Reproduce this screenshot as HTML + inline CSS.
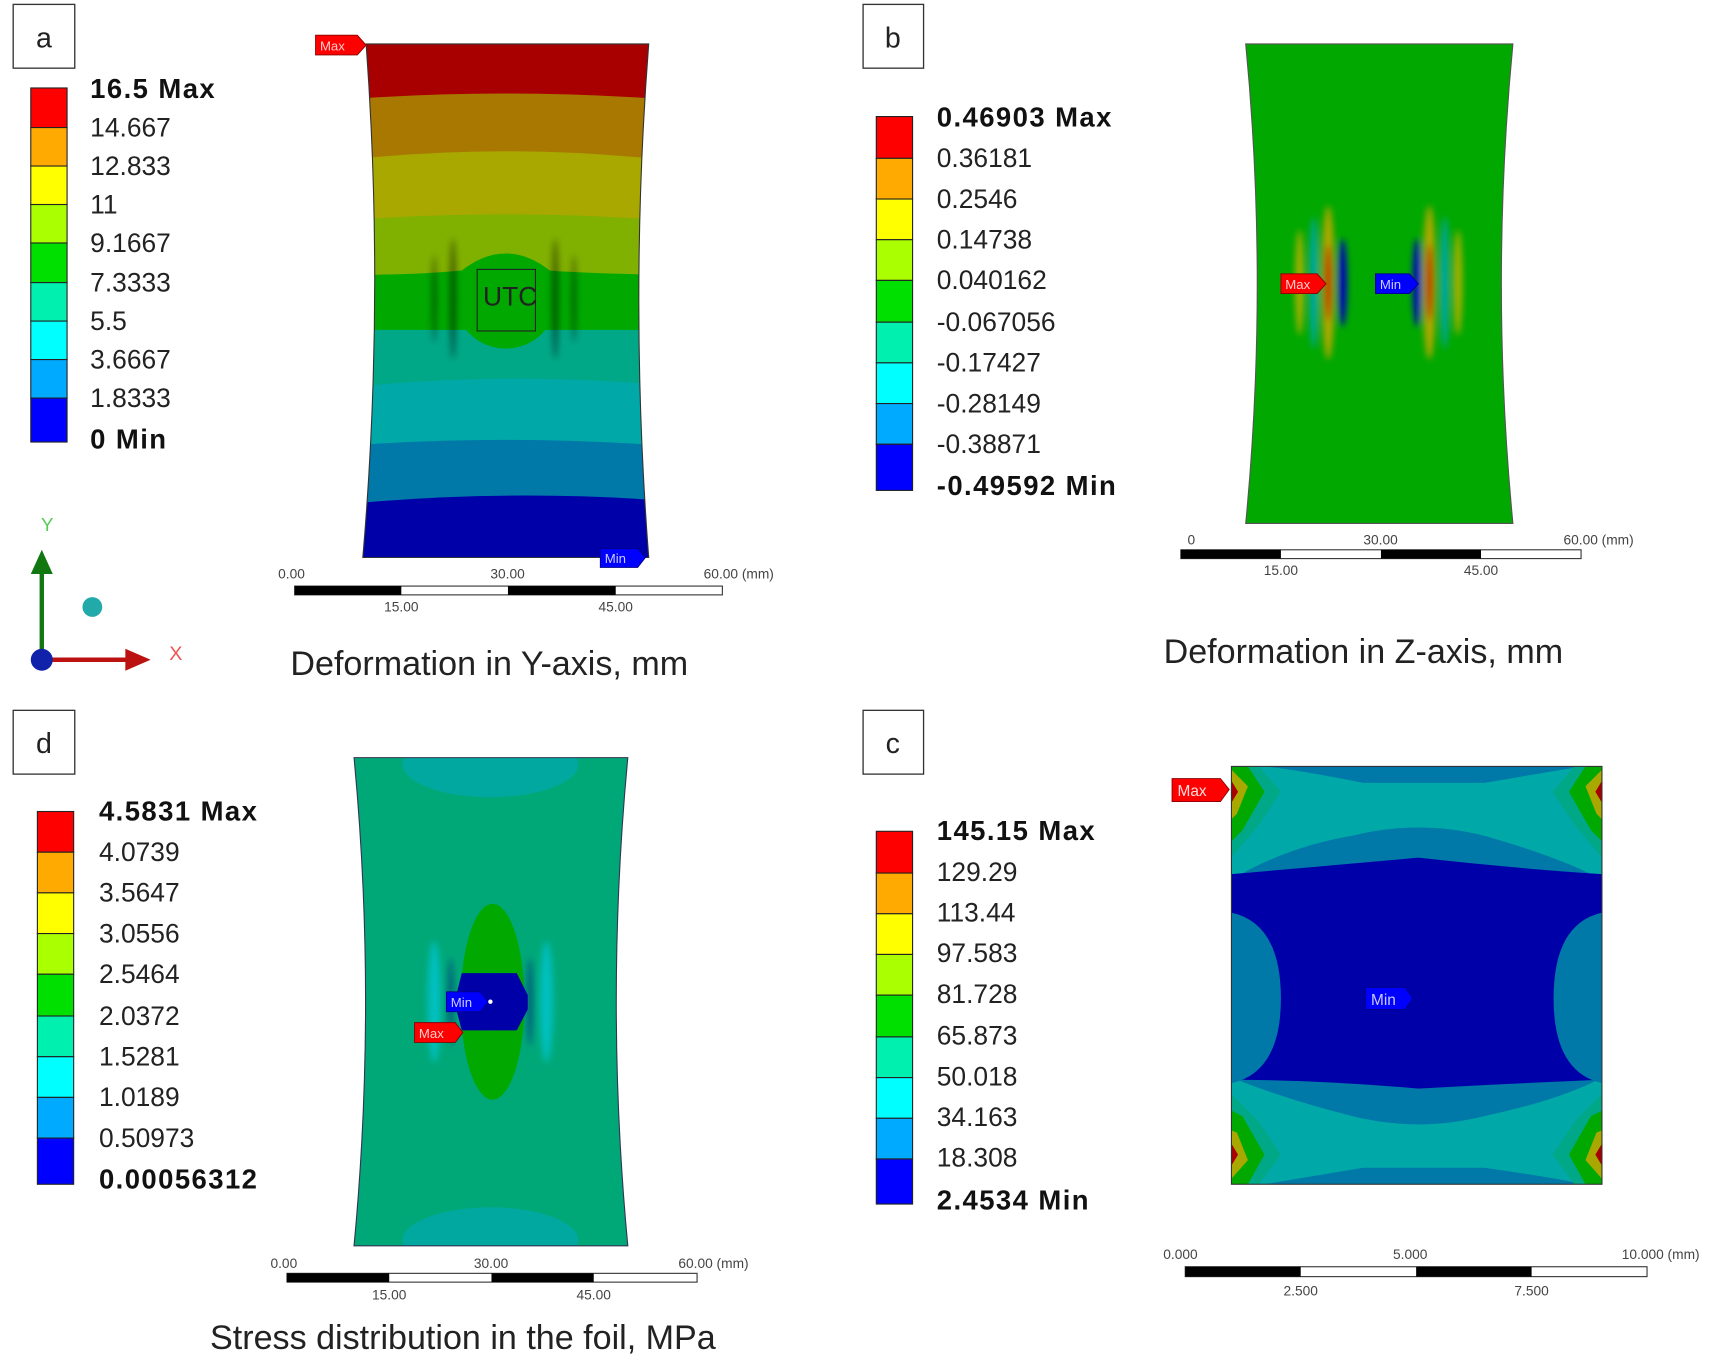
<!DOCTYPE html>
<html><head><meta charset="utf-8"><style>
html,body{margin:0;padding:0;background:#fff}
svg{display:block}
text{font-family:"Liberation Sans",sans-serif}
.lb{font-size:24px;fill:#222}
.lbb{font-size:25px;fill:#111;font-weight:bold;letter-spacing:1.3px}
.sc{font-size:12.5px;fill:#444}
.ti{font-size:31px;fill:#222}
</style></head><body>
<svg width="1724" height="1358" viewBox="0 0 1568 1235" preserveAspectRatio="none" xmlns="http://www.w3.org/2000/svg">
<defs>
<filter id="bl" x="-50%" y="-50%" width="200%" height="200%"><feGaussianBlur stdDeviation="3"/></filter>
<clipPath id="ca"><path d="M333,40 L590,40 Q572,273 590,507 L330,507 Q350,273 333,40Z"/></clipPath>
<clipPath id="cb"><path d="M1133,40 L1376,40 Q1355,258 1376,476 L1133,476 Q1154,258 1133,40Z"/></clipPath>
<clipPath id="cd"><path d="M322,689 L571,689 Q550,911 571,1133 L322,1133 Q343,911 322,689Z"/></clipPath>
<clipPath id="cc"><rect x="1120" y="697" width="337" height="380"/></clipPath>
</defs>

<!-- ===== Panel a ===== -->
<rect x="12" y="4" width="56" height="58" fill="#fff" stroke="#333" stroke-width="1.2"/>
<text x="40" y="43" font-size="26" text-anchor="middle" fill="#222">a</text>
<g stroke="#222" stroke-width="1">
<rect x="28" y="80" width="33" height="36" fill="#ff0000"/>
<rect x="28" y="116" width="33" height="35" fill="#ffaa00"/>
<rect x="28" y="151" width="33" height="35" fill="#ffff00"/>
<rect x="28" y="186" width="33" height="35" fill="#aaff00"/>
<rect x="28" y="221" width="33" height="36" fill="#00e000"/>
<rect x="28" y="257" width="33" height="35" fill="#00f0b0"/>
<rect x="28" y="292" width="33" height="35" fill="#00ffff"/>
<rect x="28" y="327" width="33" height="35" fill="#00aaff"/>
<rect x="28" y="362" width="33" height="40" fill="#0000ff"/>
</g>
<text class="lbb" x="82" y="89">16.5 Max</text>
<text class="lb" x="82" y="124">14.667</text>
<text class="lb" x="82" y="159">12.833</text>
<text class="lb" x="82" y="194">11</text>
<text class="lb" x="82" y="229">9.1667</text>
<text class="lb" x="82" y="265">7.3333</text>
<text class="lb" x="82" y="300">5.5</text>
<text class="lb" x="82" y="335">3.6667</text>
<text class="lb" x="82" y="370">1.8333</text>
<text class="lbb" x="82" y="408">0 Min</text>

<g clip-path="url(#ca)">
<rect x="320" y="30" width="280" height="490" fill="#0000a8"/>
<path d="M320,30 H600 V455 Q460,445 320,458Z" fill="#0078a8"/>
<path d="M320,30 H600 V405 Q460,395 320,405Z" fill="#00a8a8"/>
<path d="M320,30 H600 V350 Q460,338 320,352Z" fill="#00a888"/>
<path d="M320,30 H600 V300 Q460,300 320,300Z" fill="#00a800"/>
<circle cx="460" cy="270" r="47" fill="#00a800"/>
<path d="M320,30 H600 V250 Q520,248 500,246 Q460,215 420,246 Q380,250 320,250Z" fill="#80b000"/>
<path d="M320,30 H600 V200 Q460,190 320,200Z" fill="#a8a800"/>
<path d="M320,30 H600 V145 Q460,130 320,145Z" fill="#a87800"/>
<path d="M320,30 H600 V90 Q460,80 320,90Z" fill="#a80000"/>
<g filter="url(#bl)" opacity="0.45" fill="#000">
<ellipse cx="412" cy="272" rx="3" ry="55"/><ellipse cx="505" cy="272" rx="3" ry="55"/>
<ellipse cx="395" cy="272" rx="2" ry="40"/><ellipse cx="522" cy="272" rx="2" ry="40"/>
</g>
</g>
<path d="M333,40 L590,40 Q572,273 590,507 L330,507 Q350,273 333,40Z" fill="none" stroke="#333" stroke-width="1"/>
<rect x="434" y="245" width="53" height="56" fill="none" stroke="#222" stroke-width="1"/>
<text x="464" y="278" font-size="24" text-anchor="middle" fill="#222">UTC</text>
<path d="M287,32 H325 L333,41 L325,50 H287Z" fill="#ff0000" stroke="#800" stroke-width="0.8"/>
<text x="291" y="46" font-size="12" fill="#fcc">Max</text>
<path d="M546,499 H580 L587,507 L580,516 H546Z" fill="#0000ff" stroke="#008" stroke-width="0.8"/>
<text x="550" y="512" font-size="12" fill="#ccf">Min</text>
<text class="sc" x="253" y="526">0.00</text>
<text class="sc" x="446" y="526">30.00</text>
<text class="sc" x="640" y="526">60.00 (mm)</text>
<rect x="268" y="533" width="389" height="8" fill="#fff" stroke="#333" stroke-width="1"/>
<rect x="268" y="533" width="97" height="8" fill="#000"/><rect x="462" y="533" width="98" height="8" fill="#000"/>
<text class="sc" x="365" y="556" text-anchor="middle">15.00</text>
<text class="sc" x="560" y="556" text-anchor="middle">45.00</text>
<text class="ti" x="445" y="614" text-anchor="middle">Deformation in Y-axis, mm</text>
<text x="43" y="483" font-size="17" fill="#5c5" text-anchor="middle">Y</text>
<line x1="38" y1="600" x2="38" y2="518" stroke="#117711" stroke-width="4"/>
<path d="M28,522 L38,500 L48,522Z" fill="#117711"/>
<line x1="38" y1="600" x2="118" y2="600" stroke="#bb1111" stroke-width="4"/>
<path d="M114,590 L137,600 L114,610Z" fill="#bb1111"/>
<text x="160" y="600" font-size="18" fill="#e55" text-anchor="middle">X</text>
<circle cx="84" cy="552" r="9" fill="#22aaaa"/>
<circle cx="38" cy="600" r="10" fill="#1122aa"/>

<!-- ===== Panel b ===== -->
<rect x="785" y="4" width="55" height="58" fill="#fff" stroke="#333" stroke-width="1.2"/>
<text x="812" y="43" font-size="26" text-anchor="middle" fill="#222">b</text>
<g stroke="#222" stroke-width="1">
<rect x="797" y="106" width="33" height="38" fill="#ff0000"/>
<rect x="797" y="144" width="33" height="37" fill="#ffaa00"/>
<rect x="797" y="181" width="33" height="37" fill="#ffff00"/>
<rect x="797" y="218" width="33" height="37" fill="#aaff00"/>
<rect x="797" y="255" width="33" height="38" fill="#00e000"/>
<rect x="797" y="293" width="33" height="37" fill="#00f0b0"/>
<rect x="797" y="330" width="33" height="37" fill="#00ffff"/>
<rect x="797" y="367" width="33" height="37" fill="#00aaff"/>
<rect x="797" y="404" width="33" height="42" fill="#0000ff"/>
</g>
<text class="lbb" x="852" y="115">0.46903 Max</text>
<text class="lb" x="852" y="152">0.36181</text>
<text class="lb" x="852" y="189">0.2546</text>
<text class="lb" x="852" y="226">0.14738</text>
<text class="lb" x="852" y="263">0.040162</text>
<text class="lb" x="852" y="301">-0.067056</text>
<text class="lb" x="852" y="338">-0.17427</text>
<text class="lb" x="852" y="375">-0.28149</text>
<text class="lb" x="852" y="412">-0.38871</text>
<text class="lbb" x="852" y="450">-0.49592 Min</text>

<g clip-path="url(#cb)">
<rect x="1120" y="30" width="270" height="460" fill="#00a800"/>
<g filter="url(#bl)">
<ellipse cx="1182" cy="257" rx="4" ry="48" fill="#a8b000"/>
<ellipse cx="1195" cy="257" rx="4" ry="60" fill="#00a8a8"/>
<ellipse cx="1208" cy="257" rx="6" ry="70" fill="#b0a800"/>
<ellipse cx="1208" cy="257" rx="3" ry="35" fill="#c00000"/>
<ellipse cx="1221" cy="257" rx="4" ry="40" fill="#0000c0"/>
<ellipse cx="1289" cy="257" rx="4" ry="40" fill="#0000c0"/>
<ellipse cx="1300" cy="257" rx="6" ry="70" fill="#b0a800"/>
<ellipse cx="1300" cy="257" rx="3" ry="35" fill="#c00000"/>
<ellipse cx="1314" cy="257" rx="4" ry="60" fill="#00a8a8"/>
<ellipse cx="1326" cy="257" rx="4" ry="48" fill="#a8b000"/>
</g>
</g>
<path d="M1133,40 L1376,40 Q1355,258 1376,476 L1133,476 Q1154,258 1133,40Z" fill="none" stroke="#555" stroke-width="1"/>
<path d="M1165,249 H1198 L1206,258 L1198,267 H1165Z" fill="#ff0000" stroke="#800" stroke-width="0.8"/>
<text x="1169" y="263" font-size="12" fill="#fcc">Max</text>
<path d="M1251,249 H1282 L1290,258 L1282,267 H1251Z" fill="#0000ff" stroke="#008" stroke-width="0.8"/>
<text x="1255" y="263" font-size="12" fill="#ccf">Min</text>
<text class="sc" x="1080" y="495">0</text>
<text class="sc" x="1240" y="495">30.00</text>
<text class="sc" x="1422" y="495">60.00 (mm)</text>
<rect x="1074" y="500" width="364" height="8" fill="#fff" stroke="#333" stroke-width="1"/>
<rect x="1074" y="500" width="91" height="8" fill="#000"/><rect x="1256" y="500" width="91" height="8" fill="#000"/>
<text class="sc" x="1165" y="523" text-anchor="middle">15.00</text>
<text class="sc" x="1347" y="523" text-anchor="middle">45.00</text>
<text class="ti" x="1240" y="603" text-anchor="middle">Deformation in Z-axis, mm</text>

<!-- ===== Panel d ===== -->
<rect x="12" y="646" width="56" height="58" fill="#fff" stroke="#333" stroke-width="1.2"/>
<text x="40" y="685" font-size="26" text-anchor="middle" fill="#222">d</text>
<g stroke="#222" stroke-width="1">
<rect x="34" y="738" width="33" height="37" fill="#ff0000"/>
<rect x="34" y="775" width="33" height="37" fill="#ffaa00"/>
<rect x="34" y="812" width="33" height="37" fill="#ffff00"/>
<rect x="34" y="849" width="33" height="37" fill="#aaff00"/>
<rect x="34" y="886" width="33" height="38" fill="#00e000"/>
<rect x="34" y="924" width="33" height="37" fill="#00f0b0"/>
<rect x="34" y="961" width="33" height="37" fill="#00ffff"/>
<rect x="34" y="998" width="33" height="37" fill="#00aaff"/>
<rect x="34" y="1035" width="33" height="42" fill="#0000ff"/>
</g>
<text class="lbb" x="90" y="746">4.5831 Max</text>
<text class="lb" x="90" y="783">4.0739</text>
<text class="lb" x="90" y="820">3.5647</text>
<text class="lb" x="90" y="857">3.0556</text>
<text class="lb" x="90" y="894">2.5464</text>
<text class="lb" x="90" y="932">2.0372</text>
<text class="lb" x="90" y="969">1.5281</text>
<text class="lb" x="90" y="1006">1.0189</text>
<text class="lb" x="90" y="1043">0.50973</text>
<text class="lbb" x="90" y="1081">0.00056312</text>

<g clip-path="url(#cd)">
<rect x="310" y="680" width="270" height="460" fill="#00a878"/>
<ellipse cx="446" cy="695" rx="80" ry="30" fill="#00a8a0"/>
<ellipse cx="446" cy="1128" rx="80" ry="30" fill="#00a8a0"/>
<g filter="url(#bl)">
<ellipse cx="395" cy="911" rx="6" ry="55" fill="#00c0c0"/>
<ellipse cx="497" cy="911" rx="6" ry="55" fill="#00c0c0"/>
<ellipse cx="410" cy="911" rx="3" ry="40" fill="#006080"/>
<ellipse cx="482" cy="911" rx="3" ry="40" fill="#006080"/>
</g>
<ellipse cx="448" cy="911" rx="29" ry="89" fill="#00a800"/>
<ellipse cx="448" cy="911" rx="31" ry="26" fill="#00a8a0"/>
<path d="M420,885 H470 L480,905 V918 L470,937 H420 L415,918 V905Z" fill="#0000a8"/>
</g>
<path d="M322,689 L571,689 Q550,911 571,1133 L322,1133 Q343,911 322,689Z" fill="none" stroke="#335" stroke-width="1"/>
<path d="M406,902 H437 L444,911 L437,920 H406Z" fill="#0000ff" stroke="#008" stroke-width="0.8"/>
<text x="410" y="916" font-size="12" fill="#ccf">Min</text>
<circle cx="446" cy="911" r="2" fill="#fff"/>
<path d="M377,930 H414 L421,939 L414,948 H377Z" fill="#ff0000" stroke="#800" stroke-width="0.8"/>
<text x="381" y="944" font-size="12" fill="#fcc">Max</text>
<text class="sc" x="246" y="1153">0.00</text>
<text class="sc" x="431" y="1153">30.00</text>
<text class="sc" x="617" y="1153">60.00 (mm)</text>
<rect x="261" y="1158" width="373" height="8" fill="#fff" stroke="#333" stroke-width="1"/>
<rect x="261" y="1158" width="93" height="8" fill="#000"/><rect x="447" y="1158" width="93" height="8" fill="#000"/>
<text class="sc" x="354" y="1182" text-anchor="middle">15.00</text>
<text class="sc" x="540" y="1182" text-anchor="middle">45.00</text>
<text class="ti" x="421" y="1227" text-anchor="middle">Stress distribution in the foil, MPa</text>

<!-- ===== Panel c ===== -->
<rect x="785" y="646" width="55" height="58" fill="#fff" stroke="#333" stroke-width="1.2"/>
<text x="812" y="685" font-size="26" text-anchor="middle" fill="#222">c</text>
<g stroke="#222" stroke-width="1">
<rect x="797" y="756" width="33" height="38" fill="#ff0000"/>
<rect x="797" y="794" width="33" height="37" fill="#ffaa00"/>
<rect x="797" y="831" width="33" height="37" fill="#ffff00"/>
<rect x="797" y="868" width="33" height="37" fill="#aaff00"/>
<rect x="797" y="905" width="33" height="38" fill="#00e000"/>
<rect x="797" y="943" width="33" height="37" fill="#00f0b0"/>
<rect x="797" y="980" width="33" height="37" fill="#00ffff"/>
<rect x="797" y="1017" width="33" height="37" fill="#00aaff"/>
<rect x="797" y="1054" width="33" height="41" fill="#0000ff"/>
</g>
<text class="lbb" x="852" y="764">145.15 Max</text>
<text class="lb" x="852" y="801">129.29</text>
<text class="lb" x="852" y="838">113.44</text>
<text class="lb" x="852" y="875">97.583</text>
<text class="lb" x="852" y="912">81.728</text>
<text class="lb" x="852" y="950">65.873</text>
<text class="lb" x="852" y="987">50.018</text>
<text class="lb" x="852" y="1024">34.163</text>
<text class="lb" x="852" y="1061">18.308</text>
<text class="lbb" x="852" y="1100">2.4534 Min</text>

<g clip-path="url(#cc)">
<rect x="1120" y="697" width="337" height="380" fill="#00a8a8"/>
<path d="M1150,697 Q1180,700 1240,712 L1350,712 Q1420,700 1440,697Z" fill="#0078a8"/>
<path d="M1120,800 Q1170,770 1230,760 Q1290,745 1350,760 Q1420,780 1457,800 V980 Q1420,1000 1350,1015 Q1290,1030 1230,1015 Q1170,1000 1120,980Z" fill="#0078a8"/>
<path d="M1150,1077 Q1180,1072 1240,1062 L1350,1062 Q1420,1072 1440,1077Z" fill="#0078a8"/>
<path d="M1120,795 Q1200,788 1290,780 Q1380,790 1457,795 V982 Q1380,985 1290,990 Q1200,982 1120,982Z" fill="#0000a8"/>
<path d="M1120,830 Q1165,840 1165,908 Q1165,975 1120,985Z" fill="#0078a8"/>
<path d="M1457,830 Q1413,840 1413,908 Q1413,975 1457,985Z" fill="#0078a8"/>
<path d="M1120,697 H1145 L1165,720 L1145,750 L1120,780Z" fill="#00a888"/>
<path d="M1120,697 H1135 L1150,720 L1130,755 L1120,765Z" fill="#00a800"/>
<path d="M1120,700 L1135,715 L1125,740 L1120,745Z" fill="#a8a800"/>
<path d="M1120,710 L1126,720 L1120,730Z" fill="#a80000"/>
<path d="M1457,697 H1432 L1412,720 L1432,750 L1457,780Z" fill="#00a888"/>
<path d="M1457,697 H1442 L1427,720 L1447,755 L1457,765Z" fill="#00a800"/>
<path d="M1457,700 L1442,715 L1452,740 L1457,745Z" fill="#a8a800"/>
<path d="M1457,710 L1451,720 L1457,730Z" fill="#a80000"/>
<path d="M1120,1077 H1145 L1165,1050 L1145,1020 L1120,995Z" fill="#00a888"/>
<path d="M1120,1077 H1135 L1150,1050 L1130,1015 L1120,1010Z" fill="#00a800"/>
<path d="M1120,1072 L1135,1055 L1125,1030 L1120,1028Z" fill="#a8a800"/>
<path d="M1120,1040 L1126,1050 L1120,1060Z" fill="#a80000"/>
<path d="M1457,1077 H1432 L1412,1050 L1432,1020 L1457,995Z" fill="#00a888"/>
<path d="M1457,1077 H1442 L1427,1050 L1447,1015 L1457,1010Z" fill="#00a800"/>
<path d="M1457,1072 L1442,1055 L1452,1030 L1457,1028Z" fill="#a8a800"/>
<path d="M1457,1040 L1451,1050 L1457,1060Z" fill="#a80000"/>
</g>
<rect x="1120" y="697" width="337" height="380" fill="none" stroke="#333" stroke-width="1"/>
<path d="M1066,708 H1110 L1118,718 L1110,729 H1066Z" fill="#ff0000" stroke="#800" stroke-width="0.8"/>
<text x="1071" y="724" font-size="14" fill="#fdd">Max</text>
<path d="M1242,898 H1278 L1285,908 L1278,918 H1242Z" fill="#0000ff" stroke="#008" stroke-width="0.8"/>
<text x="1247" y="914" font-size="14" fill="#ccf">Min</text>
<text class="sc" x="1058" y="1145">0.000</text>
<text class="sc" x="1267" y="1145">5.000</text>
<text class="sc" x="1475" y="1145">10.000 (mm)</text>
<rect x="1078" y="1152" width="420" height="9" fill="#fff" stroke="#333" stroke-width="1"/>
<rect x="1078" y="1152" width="105" height="9" fill="#000"/><rect x="1288" y="1152" width="105" height="9" fill="#000"/>
<text class="sc" x="1183" y="1178" text-anchor="middle">2.500</text>
<text class="sc" x="1393" y="1178" text-anchor="middle">7.500</text>
</svg>
</body></html>
